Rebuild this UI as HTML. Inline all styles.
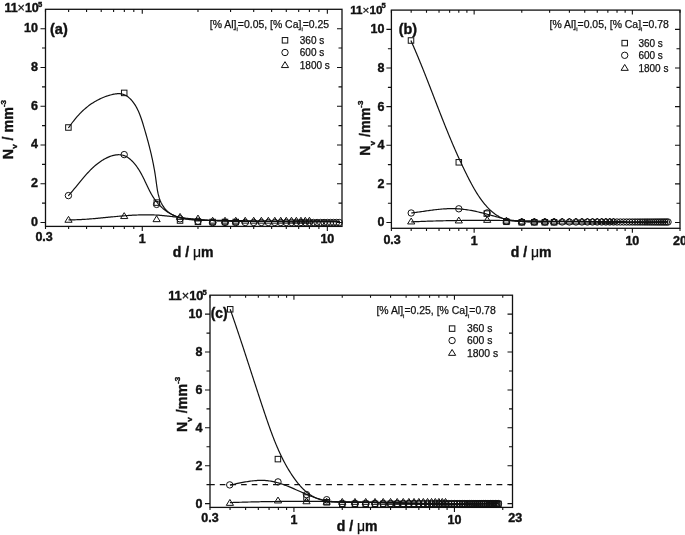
<!DOCTYPE html>
<html><head><meta charset="utf-8"><style>
html,body{margin:0;padding:0;background:#fff;}
body{width:685px;height:535px;overflow:hidden;}
svg{display:block;}
</style></head><body>
<svg width="685" height="535" viewBox="0 0 685 535" font-family="'Liberation Sans', Arial, sans-serif" fill="#111">
<style>text{stroke:#111;stroke-width:0.25px} .b{font-weight:bold;stroke-width:0.4px} .n{font-weight:normal;stroke-width:0.25px}</style>
<rect width="685" height="535" fill="#fff"/>
<rect x="45.5" y="9.3" width="296.5" height="217.1" fill="none" stroke="#111" stroke-width="1.3"/>
<path d="M40.5 222.52H45.5M342 222.52H337M42 203.14H45.5M342 203.14H338.5M40.5 183.76H45.5M342 183.76H337M42 164.37H45.5M342 164.37H338.5M40.5 144.99H45.5M342 144.99H337M42 125.6H45.5M342 125.6H338.5M40.5 106.22H45.5M342 106.22H337M42 86.84H45.5M342 86.84H338.5M40.5 67.45H45.5M342 67.45H337M42 48.07H45.5M342 48.07H338.5M40.5 28.68H45.5M342 28.68H337M45.5 226.4V229M45.5 9.3V11.9M68.62 226.4V229M68.62 9.3V11.9M86.56 226.4V229M86.56 9.3V11.9M101.21 226.4V229M101.21 9.3V11.9M113.6 226.4V229M113.6 9.3V11.9M124.34 226.4V229M124.34 9.3V11.9M133.8 226.4V229M133.8 9.3V11.9M142.27 226.4V230.9M142.27 9.3V13.8M197.98 226.4V229M197.98 9.3V11.9M230.57 226.4V229M230.57 9.3V11.9M253.7 226.4V229M253.7 9.3V11.9M271.63 226.4V229M271.63 9.3V11.9M286.29 226.4V229M286.29 9.3V11.9M298.68 226.4V229M298.68 9.3V11.9M309.41 226.4V229M309.41 9.3V11.9M318.88 226.4V229M318.88 9.3V11.9M327.35 226.4V230.9M327.35 9.3V13.8" stroke="#111" stroke-width="1.1" fill="none"/>
<text x="38" y="225.82" font-size="12.5" class="b" text-anchor="end">0</text>
<text x="38" y="187.06" font-size="12.5" class="b" text-anchor="end">2</text>
<text x="38" y="148.29" font-size="12.5" class="b" text-anchor="end">4</text>
<text x="38" y="109.52" font-size="12.5" class="b" text-anchor="end">6</text>
<text x="38" y="70.75" font-size="12.5" class="b" text-anchor="end">8</text>
<text x="38" y="31.98" font-size="12.5" class="b" text-anchor="end">10</text>
<text x="44.1" y="240.8" font-size="12.5" class="b" text-anchor="middle">0.3</text>
<text x="142.27" y="243.4" font-size="12.5" class="b" text-anchor="middle">1</text>
<text x="327.35" y="243.2" font-size="12.5" class="b" text-anchor="middle">10</text>
<path d="M68.4 128 69.1 126.99 69.8 125.98 70.52 124.98 71.25 123.98 71.98 122.99 72.74 122 73.5 121.02 74.27 120.04 75.06 119.08 75.86 118.11 76.67 117.16 77.5 116.22 78.34 115.29 79.19 114.36 80.06 113.45 80.94 112.55 81.84 111.67 82.75 110.79 83.68 109.93 84.63 109.08 85.58 108.25 86.56 107.44 87.55 106.64 88.56 105.85 89.59 105.09 90.63 104.34 91.69 103.61 92.77 102.9 93.86 102.21 94.98 101.54 96.1 100.9 97.25 100.27 98.4 99.67 99.57 99.09 100.75 98.53 101.94 98 103.13 97.49 104.33 97.01 105.53 96.56 106.74 96.13 107.95 95.73 109.16 95.36 110.37 95.02 111.58 94.71 112.78 94.43 113.98 94.18 115.17 93.97 116.35 93.82 117.52 93.72 118.68 93.68 119.82 93.71 120.95 93.82 122.06 94.02 123.15 94.3 124.21 94.69 125.26 95.17 126.27 95.73 127.26 96.37 128.22 97.08 129.14 97.84 130.03 98.66 130.89 99.52 131.71 100.41 132.5 101.34 133.26 102.31 133.99 103.31 134.69 104.34 135.36 105.4 136 106.49 136.62 107.6 137.21 108.74 137.78 109.9 138.33 111.08 138.86 112.27 139.37 113.48 139.86 114.71 140.33 115.95 140.78 117.2 141.23 118.45 141.65 119.72 142.07 120.99 142.47 122.26 142.87 123.53 143.25 124.8 143.63 126.07 144 127.33 144.37 128.58 144.73 129.83 145.09 131.07 145.45 132.3 145.8 133.53 146.14 134.75 146.48 135.96 146.82 137.17 147.15 138.37 147.48 139.57 147.81 140.76 148.13 141.95 148.45 143.14 148.76 144.32 149.07 145.5 149.37 146.68 149.67 147.86 149.96 149.03 150.25 150.21 150.54 151.38 150.82 152.56 151.1 153.73 151.37 154.91 151.64 156.09 151.9 157.26 152.16 158.45 152.42 159.63 152.67 160.82 152.91 162.01 153.15 163.2 153.39 164.4 153.62 165.61 153.85 166.82 154.07 168.03 154.29 169.25 154.51 170.48 154.72 171.72 154.92 172.96 155.12 174.21 155.32 175.47 155.51 176.74 155.69 178.01 155.87 179.3 156.05 180.59 156.22 181.9 156.4 183.21 156.58 184.53 156.76 185.85 156.95 187.16 157.15 188.48 157.36 189.79 157.6 191.1 157.85 192.39 158.12 193.68 158.42 194.95 158.75 196.2 159.1 197.44 159.49 198.66 159.92 199.86 160.38 201.03 160.88 202.18 161.42 203.29 162 204.38 162.62 205.44 163.27 206.45 163.96 207.43 164.68 208.38 165.44 209.28 166.24 210.13 167.08 210.94 167.95 211.7 168.85 212.42 169.79 213.09 170.76 213.71 171.76 214.29 172.79 214.84 173.85 215.34 174.93 215.81 176.04 216.24 177.17 216.63 178.32 217 179.5 217.33 180.69 217.64 181.9 217.91 183.13 218.17 184.37 218.4 185.63 218.6 186.9 218.79 188.18 218.95 189.47 219.1 190.77 219.24 192.07 219.36 193.38 219.47 194.69 219.56 196.01 219.65 197.32 219.74 198.64 219.81 199.96 219.88 201.27 219.95 202.58 220.02 203.88 220.09 205.19 220.15 206.49 220.21 207.79 220.27 209.08 220.33 210.37 220.38 211.66 220.44 212.95 220.49 214.24 220.54 215.52 220.58 216.8 220.63 218.08 220.67 219.36 220.71 220.63 220.75 221.9 220.79 223.17 220.83 224.44 220.86 225.71 220.89 226.97 220.93 228.23 220.96 229.49 220.98 230.75 221.01 232.01 221.04 233.26 221.06 234.52 221.08 235.77 221.1 237.02 221.12 238.27 221.14 239.52 221.16 240.76 221.18 242.01 221.19 243.25 221.21 244.49 221.22 245.74 221.23 246.98 221.24 248.22 221.25 249.46 221.26 250.69 221.27 251.93 221.27 253.17 221.28 254.4 221.29 255.64 221.29 256.87 221.29 258.11 221.3 259.34 221.3 260.57 221.3 261.8 221.3 263.04 221.3 264.27 221.3 265.5 221.3 266.73 221.3 267.96 221.3 269.19 221.3 270.43 221.29 271.66 221.29 272.89 221.29 274.12 221.29 275.35 221.28 276.58 221.28 277.82 221.27 279.05 221.27 280.28 221.27 281.52 221.26 282.75 221.26 283.98 221.25 285.22 221.25 286.46 221.24 287.69 221.24 288.93 221.24 290.17 221.23 291.41 221.23 292.65 221.23 293.89 221.22 295.13 221.22 296.37 221.22 297.62 221.22 298.87 221.22 300.11 221.21 301.36 221.21 302.61 221.21 303.86 221.21 305.11 221.22 306.37 221.22 307.62 221.22 308.88 221.22 310.14 221.23 311.4 221.23 312.67 221.24 313.93 221.24 315.2 221.25 316.47 221.26 317.74 221.27 319.01 221.28 320.28 221.29 321.56 221.3 322.84 221.31 324.12 221.33 325.41 221.34 326.69 221.36 327.98 221.38 329.27 221.4 330.57 221.42 331.86 221.44 333.16 221.46 334.46 221.49 335.77 221.51 337.08 221.54 338.39 221.57 339.7 221.6" fill="none" stroke="#111" stroke-width="1.2" stroke-linejoin="round"/>
<path d="M68.3 195.8 69.08 194.94 69.87 194.06 70.65 193.16 71.43 192.25 72.22 191.33 73 190.39 73.79 189.44 74.58 188.48 75.37 187.51 76.17 186.54 76.97 185.56 77.77 184.57 78.58 183.58 79.39 182.58 80.21 181.59 81.03 180.59 81.86 179.6 82.69 178.6 83.53 177.61 84.38 176.63 85.23 175.65 86.1 174.67 86.97 173.7 87.85 172.75 88.74 171.8 89.63 170.86 90.54 169.94 91.46 169.03 92.38 168.14 93.32 167.26 94.27 166.4 95.23 165.56 96.21 164.74 97.19 163.94 98.19 163.16 99.2 162.4 100.23 161.67 101.27 160.97 102.32 160.29 103.39 159.64 104.47 159.02 105.57 158.43 106.69 157.88 107.82 157.35 108.96 156.86 110.12 156.42 111.29 156.01 112.47 155.65 113.65 155.35 114.83 155.1 116.01 154.91 117.19 154.78 118.36 154.72 119.52 154.74 120.67 154.83 121.81 154.99 122.93 155.25 124.03 155.59 125.11 156.01 126.16 156.52 127.2 157.1 128.21 157.75 129.2 158.47 130.17 159.25 131.12 160.08 132.04 160.96 132.94 161.89 133.81 162.85 134.66 163.85 135.48 164.88 136.28 165.93 137.05 167 137.79 168.09 138.51 169.18 139.21 170.29 139.88 171.4 140.53 172.52 141.16 173.65 141.78 174.78 142.38 175.92 142.96 177.06 143.53 178.2 144.1 179.35 144.65 180.49 145.19 181.64 145.73 182.78 146.27 183.93 146.81 185.07 147.34 186.2 147.88 187.34 148.42 188.46 148.97 189.58 149.53 190.7 150.1 191.8 150.68 192.9 151.28 193.98 151.9 195.06 152.54 196.12 153.2 197.17 153.88 198.2 154.59 199.22 155.32 200.23 156.08 201.22 156.86 202.19 157.66 203.14 158.49 204.08 159.34 204.99 160.21 205.88 161.09 206.75 162 207.6 162.93 208.42 163.88 209.22 164.85 209.99 165.84 210.74 166.84 211.45 167.86 212.14 168.89 212.8 169.94 213.43 171.01 214.03 172.09 214.6 173.19 215.13 174.3 215.63 175.42 216.1 176.56 216.54 177.7 216.95 178.86 217.32 180.03 217.68 181.21 218 182.41 218.3 183.61 218.58 184.82 218.83 186.04 219.06 187.27 219.26 188.5 219.45 189.75 219.62 191 219.77 192.25 219.9 193.52 220.01 194.78 220.11 196.06 220.2 197.33 220.27 198.62 220.33 199.9 220.38 201.19 220.42 202.48 220.45 203.78 220.47 205.07 220.48 206.37 220.49 207.67 220.49 208.96 220.49 210.26 220.49 211.56 220.48 212.85 220.47 214.15 220.47 215.44 220.46 216.73 220.46 218.01 220.45 219.3 220.45 220.58 220.45 221.86 220.45 223.14 220.46 224.41 220.46 225.69 220.47 226.96 220.48 228.23 220.49 229.49 220.5 230.76 220.51 232.02 220.52 233.28 220.54 234.54 220.55 235.8 220.57 237.06 220.59 238.31 220.61 239.57 220.63 240.82 220.65 242.07 220.67 243.32 220.69 244.57 220.72 245.81 220.74 247.06 220.77 248.3 220.79 249.55 220.82 250.79 220.85 252.03 220.87 253.27 220.9 254.51 220.93 255.75 220.96 256.99 220.99 258.22 221.02 259.46 221.05 260.69 221.08 261.93 221.11 263.16 221.14 264.4 221.17 265.63 221.2 266.87 221.24 268.1 221.27 269.33 221.3 270.57 221.33 271.8 221.36 273.03 221.39 274.27 221.42 275.5 221.45 276.73 221.48 277.96 221.51 279.2 221.54 280.43 221.57 281.66 221.6 282.9 221.62 284.13 221.65 285.37 221.68 286.6 221.7 287.84 221.73 289.08 221.75 290.32 221.78 291.55 221.8 292.79 221.82 294.03 221.84 295.27 221.86 296.52 221.88 297.76 221.9 299 221.92 300.25 221.93 301.49 221.95 302.74 221.96 303.99 221.97 305.24 221.98 306.49 221.99 307.75 222 309 222 310.26 222.01 311.51 222.01 312.77 222.01 314.03 222.01 315.3 222.01 316.56 222.01 317.83 222 319.1 222 320.37 221.99 321.64 221.98 322.91 221.96 324.19 221.95 325.47 221.93 326.75 221.91 328.03 221.89 329.32 221.87 330.61 221.84 331.9 221.82 333.19 221.79 334.49 221.75 335.79 221.72 337.09 221.68 338.39 221.64 339.7 221.6" fill="none" stroke="#111" stroke-width="1.2" stroke-linejoin="round"/>
<path d="M68.5 219.9 69.76 219.89 71.01 219.88 72.27 219.86 73.53 219.83 74.79 219.8 76.04 219.76 77.3 219.71 78.56 219.66 79.81 219.6 81.07 219.53 82.32 219.46 83.58 219.39 84.84 219.31 86.09 219.23 87.35 219.14 88.6 219.04 89.86 218.95 91.12 218.85 92.37 218.74 93.63 218.64 94.88 218.53 96.14 218.42 97.39 218.3 98.65 218.19 99.9 218.07 101.16 217.95 102.41 217.83 103.67 217.71 104.92 217.58 106.18 217.46 107.43 217.34 108.69 217.22 109.94 217.09 111.19 216.97 112.45 216.85 113.7 216.73 114.96 216.61 116.21 216.49 117.47 216.38 118.72 216.26 119.97 216.15 121.23 216.04 122.48 215.94 123.73 215.83 124.99 215.73 126.24 215.64 127.5 215.55 128.75 215.46 130 215.37 131.26 215.29 132.51 215.22 133.76 215.15 135.02 215.09 136.27 215.03 137.52 214.98 138.78 214.93 140.03 214.89 141.28 214.86 142.53 214.83 143.79 214.81 145.04 214.8 146.29 214.8 147.55 214.8 148.8 214.81 150.05 214.83 151.3 214.86 152.56 214.9 153.81 214.94 155.06 215 156.32 215.06 157.57 215.14 158.82 215.22 160.07 215.31 161.33 215.42 162.58 215.53 163.83 215.65 165.08 215.78 166.34 215.91 167.59 216.05 168.84 216.19 170.09 216.34 171.35 216.49 172.6 216.64 173.85 216.79 175.1 216.94 176.36 217.09 177.61 217.24 178.86 217.39 180.11 217.53 181.37 217.67 182.62 217.81 183.87 217.95 185.13 218.09 186.38 218.23 187.63 218.36 188.88 218.49 190.14 218.62 191.39 218.75 192.64 218.87 193.89 218.99 195.15 219.11 196.4 219.23 197.65 219.35 198.9 219.46 200.16 219.57 201.41 219.68 202.66 219.78 203.92 219.88 205.17 219.98 206.42 220.08 207.68 220.17 208.93 220.26 210.18 220.34 211.43 220.43 212.69 220.5 213.94 220.58 215.19 220.65 216.45 220.72 217.7 220.79 218.95 220.85 220.21 220.91 221.46 220.96 222.71 221.01 223.97 221.06 225.22 221.11 226.48 221.15 227.73 221.19 228.98 221.23 230.24 221.26 231.49 221.29 232.74 221.32 234 221.35 235.25 221.37 236.51 221.4 237.76 221.42 239.02 221.43 240.27 221.45 241.52 221.46 242.78 221.47 244.03 221.48 245.29 221.49 246.54 221.49 247.8 221.49 249.05 221.49 250.31 221.49 251.56 221.49 252.82 221.49 254.07 221.48 255.33 221.48 256.58 221.47 257.84 221.46 259.09 221.45 260.35 221.44 261.61 221.43 262.86 221.41 264.12 221.4 265.37 221.39 266.63 221.37 267.89 221.35 269.14 221.34 270.4 221.32 271.66 221.3 272.91 221.28 274.17 221.26 275.43 221.25 276.68 221.23 277.94 221.21 279.2 221.19 280.45 221.17 281.71 221.15 282.97 221.13 284.23 221.11 285.48 221.1 286.74 221.08 288 221.06 289.26 221.04 290.52 221.03 291.78 221.01 293.03 221 294.29 220.98 295.55 220.97 296.81 220.96 298.07 220.95 299.33 220.94 300.59 220.93 301.85 220.92 303.11 220.91 304.37 220.91 305.63 220.9 306.89 220.9 308.15 220.9 309.41 220.9 310.67 220.9 311.93 220.91 313.19 220.92 314.45 220.92 315.71 220.93 316.97 220.95 318.23 220.96 319.49 220.98 320.76 221 322.02 221.02 323.28 221.04 324.54 221.07 325.8 221.1 327.07 221.13 328.33 221.16 329.59 221.2 330.85 221.24 332.12 221.28 333.38 221.33 334.64 221.37 335.91 221.43 337.17 221.48 338.44 221.54 339.7 221.6" fill="none" stroke="#111" stroke-width="1.2" stroke-linejoin="round"/>
<g fill="none" stroke="#111" stroke-width="1.0"><rect x="65.65" y="124.75" width="5.5" height="5.5"/><rect x="121.45" y="90.15" width="5.5" height="5.5"/><rect x="154.05" y="199.85" width="5.5" height="5.5"/><rect x="177.3" y="217.75" width="5.5" height="5.5"/><rect x="195.23" y="219.05" width="5.5" height="5.5"/><rect x="209.89" y="219.25" width="5.5" height="5.5"/><rect x="222.28" y="219.25" width="5.5" height="5.5"/><rect x="233.01" y="219.25" width="5.5" height="5.5"/><circle cx="68.4" cy="195.6" r="3.2"/><circle cx="124.2" cy="154.6" r="3.2"/><circle cx="156.6" cy="204.4" r="3.2"/><circle cx="180.05" cy="218.8" r="3.2"/><circle cx="197.98" cy="221.2" r="3.2"/><circle cx="212.64" cy="222.5" r="3.2"/><circle cx="225.03" cy="222.5" r="3.2"/><circle cx="235.76" cy="222.5" r="3.2"/><circle cx="245.23" cy="222.5" r="3.2"/><circle cx="253.7" cy="222.5" r="3.2"/><circle cx="261.36" cy="222.5" r="3.2"/><circle cx="268.35" cy="222.5" r="3.2"/><circle cx="274.79" cy="222.5" r="3.2"/><circle cx="280.74" cy="222.5" r="3.2"/><circle cx="286.29" cy="222.5" r="3.2"/><circle cx="291.47" cy="222.5" r="3.2"/><circle cx="296.35" cy="222.5" r="3.2"/><circle cx="300.94" cy="222.5" r="3.2"/><circle cx="305.29" cy="222.5" r="3.2"/><circle cx="309.41" cy="222.5" r="3.2"/><circle cx="313.33" cy="222.5" r="3.2"/><circle cx="317.07" cy="222.5" r="3.2"/><circle cx="320.64" cy="222.5" r="3.2"/><circle cx="324.06" cy="222.5" r="3.2"/><circle cx="327.35" cy="222.5" r="3.2"/><circle cx="330.5" cy="222.5" r="3.2"/><circle cx="333.53" cy="222.5" r="3.2"/><circle cx="336.45" cy="222.5" r="3.2"/><circle cx="339.28" cy="222.5" r="3.2"/><path d="M68.5 216.35L72.1 222.25L64.9 222.25Z"/><path d="M124.2 212.65L127.8 218.55L120.6 218.55Z"/><path d="M156.6 215.75L160.2 221.65L153 221.65Z"/><path d="M180.05 213.45L183.65 219.35L176.45 219.35Z"/><path d="M197.98 215.05L201.58 220.95L194.38 220.95Z"/><path d="M212.64 217.25L216.24 223.15L209.04 223.15Z"/><path d="M225.03 217.25L228.63 223.15L221.43 223.15Z"/><path d="M235.76 217.25L239.36 223.15L232.16 223.15Z"/><path d="M245.23 217.25L248.83 223.15L241.63 223.15Z"/><path d="M253.7 217.25L257.3 223.15L250.1 223.15Z"/><path d="M261.36 217.25L264.96 223.15L257.76 223.15Z"/><path d="M268.35 217.25L271.95 223.15L264.75 223.15Z"/><path d="M274.79 217.25L278.39 223.15L271.19 223.15Z"/><path d="M280.74 217.25L284.34 223.15L277.14 223.15Z"/><path d="M286.29 217.25L289.89 223.15L282.69 223.15Z"/><path d="M291.47 217.25L295.07 223.15L287.87 223.15Z"/><path d="M296.35 217.25L299.95 223.15L292.75 223.15Z"/><path d="M300.94 217.25L304.54 223.15L297.34 223.15Z"/><path d="M305.29 217.25L308.89 223.15L301.69 223.15Z"/><path d="M309.41 217.25L313.01 223.15L305.81 223.15Z"/></g>
<rect x="391.4" y="10.1" width="288.6" height="218.2" fill="none" stroke="#111" stroke-width="1.3"/>
<path d="M386.4 222.51H391.4M680 222.51H675M387.9 203.2H391.4M680 203.2H676.5M386.4 183.89H391.4M680 183.89H675M387.9 164.58H391.4M680 164.58H676.5M386.4 145.27H391.4M680 145.27H675M387.9 125.96H391.4M680 125.96H676.5M386.4 106.65H391.4M680 106.65H675M387.9 87.34H391.4M680 87.34H676.5M386.4 68.03H391.4M680 68.03H675M387.9 48.72H391.4M680 48.72H676.5M386.4 29.41H391.4M680 29.41H675M391.4 228.3V230.9M391.4 10.1V12.7M411.17 228.3V230.9M411.17 10.1V12.7M426.5 228.3V230.9M426.5 10.1V12.7M439.03 228.3V230.9M439.03 10.1V12.7M449.63 228.3V230.9M449.63 10.1V12.7M458.8 228.3V230.9M458.8 10.1V12.7M466.9 228.3V230.9M466.9 10.1V12.7M474.14 228.3V232.8M474.14 10.1V14.6M521.77 228.3V230.9M521.77 10.1V12.7M549.63 228.3V230.9M549.63 10.1V12.7M569.4 228.3V230.9M569.4 10.1V12.7M584.74 228.3V230.9M584.74 10.1V12.7M597.26 228.3V230.9M597.26 10.1V12.7M607.86 228.3V230.9M607.86 10.1V12.7M617.03 228.3V230.9M617.03 10.1V12.7M625.13 228.3V230.9M625.13 10.1V12.7M632.37 228.3V232.8M632.37 10.1V14.6M680 228.3V230.9M680 10.1V12.7" stroke="#111" stroke-width="1.1" fill="none"/>
<text x="384.4" y="226.41" font-size="12.5" class="b" text-anchor="end">0</text>
<text x="384.4" y="187.79" font-size="12.5" class="b" text-anchor="end">2</text>
<text x="384.4" y="149.17" font-size="12.5" class="b" text-anchor="end">4</text>
<text x="384.4" y="110.55" font-size="12.5" class="b" text-anchor="end">6</text>
<text x="384.4" y="71.93" font-size="12.5" class="b" text-anchor="end">8</text>
<text x="384.4" y="33.31" font-size="12.5" class="b" text-anchor="end">10</text>
<text x="392.1" y="243.8" font-size="12.5" class="b" text-anchor="middle">0.3</text>
<text x="474.14" y="244.8" font-size="12.5" class="b" text-anchor="middle">1</text>
<text x="632.37" y="244.9" font-size="12.5" class="b" text-anchor="middle">10</text>
<text x="680" y="244.9" font-size="12.5" class="b" text-anchor="middle">20</text>
<path d="M410.9 40.5 411.42 41.67 411.93 42.83 412.45 44 412.96 45.17 413.47 46.34 413.97 47.5 414.48 48.67 414.98 49.84 415.48 51 415.97 52.17 416.47 53.33 416.96 54.5 417.45 55.67 417.93 56.83 418.42 58 418.9 59.16 419.38 60.33 419.86 61.49 420.34 62.66 420.81 63.82 421.29 64.99 421.76 66.15 422.23 67.31 422.7 68.48 423.16 69.64 423.63 70.81 424.09 71.97 424.56 73.13 425.02 74.3 425.48 75.46 425.94 76.62 426.4 77.79 426.85 78.95 427.31 80.11 427.76 81.27 428.22 82.44 428.67 83.6 429.12 84.76 429.58 85.92 430.03 87.09 430.48 88.25 430.93 89.41 431.38 90.57 431.83 91.73 432.28 92.89 432.73 94.05 433.17 95.21 433.62 96.38 434.07 97.54 434.52 98.7 434.97 99.86 435.42 101.02 435.86 102.18 436.31 103.34 436.76 104.5 437.21 105.66 437.66 106.82 438.11 107.98 438.56 109.14 439.01 110.29 439.46 111.45 439.91 112.61 440.37 113.77 440.82 114.93 441.27 116.09 441.73 117.25 442.18 118.41 442.64 119.56 443.1 120.72 443.56 121.88 444.02 123.04 444.48 124.2 444.94 125.35 445.41 126.51 445.87 127.67 446.34 128.82 446.81 129.98 447.28 131.14 447.75 132.29 448.22 133.45 448.7 134.61 449.18 135.76 449.66 136.92 450.14 138.08 450.62 139.23 451.1 140.39 451.59 141.54 452.08 142.7 452.57 143.86 453.06 145.01 453.56 146.17 454.06 147.32 454.56 148.48 455.06 149.63 455.57 150.79 456.08 151.94 456.59 153.09 457.1 154.25 457.62 155.4 458.14 156.56 458.66 157.71 459.19 158.87 459.71 160.02 460.25 161.17 460.78 162.33 461.32 163.48 461.86 164.63 462.4 165.79 462.95 166.94 463.5 168.09 464.06 169.25 464.62 170.4 465.18 171.55 465.74 172.7 466.31 173.86 466.89 175.01 467.46 176.16 468.04 177.31 468.63 178.46 469.22 179.61 469.81 180.76 470.41 181.9 471.02 183.05 471.63 184.18 472.25 185.32 472.87 186.45 473.5 187.57 474.14 188.68 474.79 189.79 475.44 190.9 476.1 191.99 476.78 193.08 477.45 194.15 478.14 195.22 478.84 196.28 479.55 197.32 480.27 198.36 480.99 199.38 481.73 200.39 482.48 201.39 483.24 202.37 484.02 203.34 484.8 204.29 485.6 205.23 486.41 206.15 487.23 207.05 488.07 207.94 488.92 208.8 489.78 209.65 490.66 210.47 491.55 211.27 492.46 212.05 493.38 212.8 494.32 213.52 495.27 214.22 496.25 214.88 497.23 215.52 498.24 216.12 499.26 216.7 500.3 217.24 501.35 217.74 502.43 218.21 503.52 218.64 504.63 219.03 505.76 219.39 506.91 219.71 508.07 220 509.25 220.26 510.44 220.48 511.64 220.68 512.86 220.86 514.09 221.01 515.33 221.14 516.58 221.24 517.83 221.33 519.1 221.41 520.37 221.46 521.64 221.51 522.92 221.54 524.21 221.57 525.5 221.58 526.79 221.59 528.08 221.6 529.37 221.6 530.66 221.61 531.94 221.61 533.23 221.61 534.52 221.62 535.8 221.62 537.09 221.62 538.37 221.63 539.65 221.63 540.93 221.63 542.21 221.63 543.49 221.64 544.77 221.64 546.05 221.64 547.32 221.64 548.6 221.64 549.87 221.65 551.15 221.65 552.42 221.65 553.69 221.65 554.96 221.65 556.23 221.65 557.5 221.66 558.77 221.66 560.04 221.66 561.31 221.66 562.58 221.66 563.84 221.66 565.11 221.66 566.37 221.66 567.63 221.67 568.9 221.67 570.16 221.67 571.42 221.67 572.68 221.67 573.94 221.67 575.2 221.67 576.46 221.67 577.72 221.67 578.98 221.67 580.24 221.67 581.5 221.67 582.75 221.68 584.01 221.68 585.27 221.68 586.52 221.68 587.78 221.68 589.03 221.68 590.29 221.68 591.54 221.68 592.79 221.68 594.05 221.68 595.3 221.68 596.55 221.69 597.8 221.69 599.06 221.69 600.31 221.69 601.56 221.69 602.81 221.69 604.06 221.69 605.31 221.69 606.56 221.69 607.81 221.7 609.06 221.7 610.31 221.7 611.56 221.7 612.81 221.7 614.06 221.7 615.31 221.71 616.56 221.71 617.81 221.71 619.06 221.71 620.31 221.71 621.56 221.72 622.81 221.72 624.05 221.72 625.3 221.72 626.55 221.73 627.8 221.73 629.05 221.73 630.3 221.74 631.55 221.74 632.8 221.74 634.05 221.75 635.3 221.75 636.55 221.75 637.8 221.76 639.05 221.76 640.3 221.77 641.55 221.77 642.8 221.77 644.06 221.78 645.31 221.78 646.56 221.79 647.81 221.79 649.06 221.8 650.32 221.8 651.57 221.81 652.82 221.82 654.08 221.82 655.33 221.83 656.59 221.83 657.84 221.84 659.1 221.85 660.35 221.85 661.61 221.86 662.87 221.87 664.12 221.88 665.38 221.88 666.64 221.89 667.9 221.9" fill="none" stroke="#111" stroke-width="1.2" stroke-linejoin="round"/>
<path d="M411.2 213 412.45 212.85 413.71 212.69 414.96 212.52 416.21 212.35 417.46 212.18 418.71 212 419.96 211.83 421.21 211.65 422.46 211.47 423.71 211.29 424.96 211.11 426.21 210.93 427.46 210.75 428.71 210.58 429.95 210.41 431.2 210.24 432.45 210.08 433.7 209.92 434.95 209.77 436.19 209.63 437.44 209.49 438.69 209.36 439.93 209.24 441.18 209.12 442.42 209.02 443.67 208.93 444.92 208.85 446.16 208.78 447.41 208.72 448.65 208.67 449.9 208.64 451.14 208.62 452.38 208.62 453.63 208.64 454.87 208.67 456.12 208.71 457.36 208.78 458.6 208.86 459.85 208.95 461.09 209.06 462.33 209.19 463.58 209.33 464.82 209.49 466.06 209.66 467.31 209.84 468.55 210.03 469.79 210.24 471.03 210.46 472.28 210.69 473.52 210.93 474.76 211.19 476 211.45 477.24 211.72 478.49 212.01 479.73 212.3 480.97 212.6 482.21 212.91 483.45 213.23 484.69 213.55 485.93 213.88 487.18 214.22 488.42 214.56 489.66 214.91 490.9 215.26 492.14 215.6 493.38 215.95 494.62 216.29 495.87 216.63 497.11 216.96 498.35 217.29 499.59 217.61 500.83 217.91 502.07 218.21 503.31 218.5 504.55 218.78 505.8 219.05 507.04 219.31 508.28 219.56 509.52 219.79 510.76 220.02 512 220.23 513.24 220.43 514.49 220.62 515.73 220.79 516.97 220.95 518.21 221.09 519.45 221.22 520.7 221.34 521.94 221.45 523.18 221.55 524.42 221.63 525.67 221.7 526.91 221.77 528.15 221.82 529.39 221.86 530.64 221.9 531.88 221.92 533.12 221.94 534.37 221.96 535.61 221.96 536.85 221.96 538.1 221.95 539.34 221.94 540.58 221.92 541.83 221.9 543.07 221.88 544.32 221.85 545.56 221.82 546.81 221.79 548.05 221.75 549.3 221.71 550.54 221.68 551.79 221.64 553.04 221.6 554.28 221.57 555.53 221.53 556.77 221.5 558.02 221.46 559.27 221.44 560.52 221.41 561.76 221.39 563.01 221.37 564.26 221.35 565.51 221.34 566.76 221.33 568 221.32 569.25 221.32 570.5 221.32 571.75 221.32 573 221.32 574.25 221.33 575.5 221.34 576.75 221.35 578 221.36 579.26 221.37 580.51 221.39 581.76 221.41 583.01 221.43 584.27 221.45 585.52 221.48 586.77 221.5 588.03 221.53 589.28 221.55 590.53 221.58 591.79 221.61 593.04 221.64 594.3 221.68 595.55 221.71 596.81 221.74 598.07 221.78 599.32 221.81 600.58 221.85 601.84 221.88 603.1 221.92 604.36 221.95 605.62 221.99 606.87 222.03 608.13 222.06 609.39 222.1 610.66 222.13 611.92 222.17 613.18 222.2 614.44 222.24 615.7 222.27 616.96 222.3 618.23 222.33 619.49 222.36 620.76 222.39 622.02 222.42 623.29 222.45 624.55 222.48 625.82 222.5 627.08 222.52 628.35 222.54 629.62 222.56 630.89 222.58 632.16 222.6 633.42 222.61 634.69 222.62 635.96 222.63 637.23 222.64 638.51 222.65 639.78 222.65 641.05 222.65 642.32 222.65 643.6 222.64 644.87 222.63 646.14 222.62 647.42 222.61 648.7 222.59 649.97 222.57 651.25 222.55 652.53 222.52 653.8 222.49 655.08 222.46 656.36 222.42 657.64 222.38 658.92 222.33 660.2 222.28 661.48 222.23 662.77 222.17 664.05 222.11 665.33 222.05 666.62 221.97 667.9 221.9" fill="none" stroke="#111" stroke-width="1.2" stroke-linejoin="round"/>
<path d="M411.2 221.9 412.46 221.84 413.72 221.78 414.97 221.72 416.23 221.67 417.49 221.61 418.75 221.56 420.01 221.5 421.26 221.45 422.52 221.4 423.78 221.36 425.04 221.31 426.3 221.26 427.56 221.22 428.81 221.18 430.07 221.13 431.33 221.09 432.59 221.05 433.85 221.02 435.1 220.98 436.36 220.95 437.62 220.91 438.88 220.88 440.14 220.85 441.39 220.82 442.65 220.79 443.91 220.76 445.17 220.73 446.43 220.71 447.68 220.68 448.94 220.66 450.2 220.64 451.46 220.61 452.72 220.59 453.97 220.57 455.23 220.56 456.49 220.54 457.75 220.52 459.01 220.51 460.26 220.49 461.52 220.48 462.78 220.47 464.04 220.46 465.3 220.45 466.56 220.44 467.81 220.43 469.07 220.42 470.33 220.41 471.59 220.41 472.85 220.4 474.1 220.4 475.36 220.4 476.62 220.39 477.88 220.39 479.14 220.39 480.39 220.39 481.65 220.39 482.91 220.39 484.17 220.39 485.43 220.4 486.68 220.4 487.94 220.41 489.2 220.41 490.46 220.42 491.72 220.42 492.97 220.43 494.23 220.44 495.49 220.45 496.75 220.45 498.01 220.46 499.27 220.47 500.52 220.49 501.78 220.5 503.04 220.51 504.3 220.52 505.56 220.53 506.81 220.55 508.07 220.56 509.33 220.58 510.59 220.59 511.85 220.61 513.1 220.62 514.36 220.64 515.62 220.65 516.88 220.67 518.14 220.69 519.4 220.71 520.65 220.73 521.91 220.74 523.17 220.76 524.43 220.78 525.69 220.8 526.94 220.82 528.2 220.84 529.46 220.86 530.72 220.88 531.98 220.9 533.24 220.93 534.49 220.95 535.75 220.97 537.01 220.99 538.27 221.01 539.53 221.04 540.78 221.06 542.04 221.08 543.3 221.1 544.56 221.13 545.82 221.15 547.08 221.17 548.33 221.2 549.59 221.22 550.85 221.24 552.11 221.27 553.37 221.29 554.63 221.31 555.88 221.34 557.14 221.36 558.4 221.38 559.66 221.41 560.92 221.43 562.18 221.45 563.43 221.48 564.69 221.5 565.95 221.52 567.21 221.54 568.47 221.57 569.73 221.59 570.98 221.61 572.24 221.64 573.5 221.66 574.76 221.68 576.02 221.7 577.28 221.72 578.53 221.74 579.79 221.77 581.05 221.79 582.31 221.81 583.57 221.83 584.83 221.85 586.08 221.87 587.34 221.89 588.6 221.91 589.86 221.93 591.12 221.94 592.38 221.96 593.64 221.98 594.89 222 596.15 222.01 597.41 222.03 598.67 222.05 599.93 222.06 601.19 222.08 602.44 222.09 603.7 222.11 604.96 222.12 606.22 222.13 607.48 222.15 608.74 222.16 610 222.17 611.25 222.18 612.51 222.19 613.77 222.2 615.03 222.21 616.29 222.22 617.55 222.23 618.81 222.24 620.06 222.24 621.32 222.25 622.58 222.26 623.84 222.26 625.1 222.27 626.36 222.27 627.62 222.27 628.88 222.27 630.13 222.27 631.39 222.28 632.65 222.27 633.91 222.27 635.17 222.27 636.43 222.27 637.69 222.27 638.95 222.26 640.2 222.26 641.46 222.25 642.72 222.24 643.98 222.24 645.24 222.23 646.5 222.22 647.76 222.21 649.02 222.19 650.27 222.18 651.53 222.17 652.79 222.15 654.05 222.14 655.31 222.12 656.57 222.11 657.83 222.09 659.09 222.07 660.35 222.05 661.61 222.02 662.86 222 664.12 221.98 665.38 221.95 666.64 221.93 667.9 221.9" fill="none" stroke="#111" stroke-width="1.2" stroke-linejoin="round"/>
<g fill="none" stroke="#111" stroke-width="1.0"><rect x="408.25" y="37.75" width="5.5" height="5.5"/><rect x="456.05" y="159.55" width="5.5" height="5.5"/><rect x="484.05" y="210.85" width="5.5" height="5.5"/><rect x="503.68" y="219.05" width="5.5" height="5.5"/><rect x="519.02" y="219.55" width="5.5" height="5.5"/><rect x="531.55" y="219.55" width="5.5" height="5.5"/><rect x="542.14" y="219.55" width="5.5" height="5.5"/><rect x="551.32" y="219.55" width="5.5" height="5.5"/><circle cx="411.2" cy="213" r="3.2"/><circle cx="458.8" cy="208.8" r="3.2"/><circle cx="487.2" cy="212.9" r="3.2"/><circle cx="506.43" cy="221.3" r="3.2"/><circle cx="521.77" cy="222" r="3.2"/><circle cx="534.3" cy="222" r="3.2"/><circle cx="544.89" cy="222" r="3.2"/><circle cx="554.07" cy="222" r="3.2"/><circle cx="562.16" cy="222" r="3.2"/><circle cx="569.4" cy="222" r="3.2"/><circle cx="575.95" cy="222" r="3.2"/><circle cx="581.93" cy="222" r="3.2"/><circle cx="587.43" cy="222" r="3.2"/><circle cx="592.52" cy="222" r="3.2"/><circle cx="597.26" cy="222" r="3.2"/><circle cx="601.7" cy="222" r="3.2"/><circle cx="605.87" cy="222" r="3.2"/><circle cx="609.79" cy="222" r="3.2"/><circle cx="613.51" cy="222" r="3.2"/><circle cx="617.03" cy="222" r="3.2"/><circle cx="620.39" cy="222" r="3.2"/><circle cx="623.58" cy="222" r="3.2"/><circle cx="626.64" cy="222" r="3.2"/><circle cx="629.56" cy="222" r="3.2"/><circle cx="632.37" cy="222" r="3.2"/><circle cx="635.06" cy="222" r="3.2"/><circle cx="637.66" cy="222" r="3.2"/><circle cx="640.16" cy="222" r="3.2"/><circle cx="642.57" cy="222" r="3.2"/><circle cx="644.9" cy="222" r="3.2"/><circle cx="647.15" cy="222" r="3.2"/><circle cx="649.33" cy="222" r="3.2"/><circle cx="651.45" cy="222" r="3.2"/><circle cx="653.5" cy="222" r="3.2"/><circle cx="655.49" cy="222" r="3.2"/><circle cx="657.43" cy="222" r="3.2"/><circle cx="659.31" cy="222" r="3.2"/><circle cx="661.14" cy="222" r="3.2"/><circle cx="662.93" cy="222" r="3.2"/><circle cx="664.67" cy="222" r="3.2"/><circle cx="666.36" cy="222" r="3.2"/><circle cx="668.02" cy="222" r="3.2"/><path d="M411.2 218.05L414.8 223.95L407.6 223.95Z"/><path d="M458.8 217.05L462.4 222.95L455.2 222.95Z"/><path d="M487.2 216.45L490.8 222.35L483.6 222.35Z"/><path d="M506.43 217.25L510.03 223.15L502.83 223.15Z"/><path d="M521.77 218.05L525.37 223.95L518.17 223.95Z"/><path d="M534.3 218.05L537.9 223.95L530.7 223.95Z"/><path d="M544.89 218.05L548.49 223.95L541.29 223.95Z"/><path d="M554.07 218.05L557.67 223.95L550.47 223.95Z"/><path d="M562.16 218.05L565.76 223.95L558.56 223.95Z"/><path d="M569.4 218.05L573 223.95L565.8 223.95Z"/><path d="M575.95 218.05L579.55 223.95L572.35 223.95Z"/><path d="M581.93 218.05L585.53 223.95L578.33 223.95Z"/><path d="M587.43 218.05L591.03 223.95L583.83 223.95Z"/><path d="M592.52 218.05L596.12 223.95L588.92 223.95Z"/><path d="M597.26 218.05L600.86 223.95L593.66 223.95Z"/><path d="M601.7 218.05L605.3 223.95L598.1 223.95Z"/><path d="M605.87 218.05L609.47 223.95L602.27 223.95Z"/><path d="M609.79 218.05L613.39 223.95L606.19 223.95Z"/><path d="M613.51 218.05L617.11 223.95L609.91 223.95Z"/></g>
<rect x="210" y="295.2" width="302.5" height="212.2" fill="none" stroke="#111" stroke-width="1.3"/>
<path d="M205 503.61H210M512.5 503.61H507.5M206.5 484.66H210M512.5 484.66H509M205 465.72H210M512.5 465.72H507.5M206.5 446.77H210M512.5 446.77H509M205 427.82H210M512.5 427.82H507.5M206.5 408.88H210M512.5 408.88H509M205 389.93H210M512.5 389.93H507.5M206.5 370.99H210M512.5 370.99H509M205 352.04H210M512.5 352.04H507.5M206.5 333.09H210M512.5 333.09H509M205 314.15H210M512.5 314.15H507.5M210 507.4V510M210 295.2V297.8M230.05 507.4V510M230.05 295.2V297.8M245.61 507.4V510M245.61 295.2V297.8M258.32 507.4V510M258.32 295.2V297.8M269.06 507.4V510M269.06 295.2V297.8M278.37 507.4V510M278.37 295.2V297.8M286.58 507.4V510M286.58 295.2V297.8M293.93 507.4V511.9M293.93 295.2V299.7M342.25 507.4V510M342.25 295.2V297.8M370.51 507.4V510M370.51 295.2V297.8M390.56 507.4V510M390.56 295.2V297.8M406.12 507.4V510M406.12 295.2V297.8M418.83 507.4V510M418.83 295.2V297.8M429.58 507.4V510M429.58 295.2V297.8M438.88 507.4V510M438.88 295.2V297.8M447.09 507.4V510M447.09 295.2V297.8M454.44 507.4V511.9M454.44 295.2V299.7M502.76 507.4V510M502.76 295.2V297.8" stroke="#111" stroke-width="1.1" fill="none"/>
<text x="202.5" y="507.51" font-size="12.5" class="b" text-anchor="end">0</text>
<text x="202.5" y="469.62" font-size="12.5" class="b" text-anchor="end">2</text>
<text x="202.5" y="431.72" font-size="12.5" class="b" text-anchor="end">4</text>
<text x="202.5" y="393.83" font-size="12.5" class="b" text-anchor="end">6</text>
<text x="202.5" y="355.94" font-size="12.5" class="b" text-anchor="end">8</text>
<text x="202.5" y="318.05" font-size="12.5" class="b" text-anchor="end">10</text>
<text x="210" y="522.1" font-size="12.5" class="b" text-anchor="middle">0.3</text>
<text x="293.93" y="524" font-size="12.5" class="b" text-anchor="middle">1</text>
<text x="454.44" y="524" font-size="12.5" class="b" text-anchor="middle">10</text>
<text x="515.2" y="522.3" font-size="12.5" class="b" text-anchor="middle">23</text>
<line x1="210" y1="484.66" x2="512.5" y2="484.66" stroke="#111" stroke-width="1.3" stroke-dasharray="5.6 5.05" stroke-dashoffset="0.85"/>
<path d="M230.2 309.3 230.62 310.5 231.04 311.7 231.46 312.9 231.88 314.1 232.3 315.3 232.71 316.5 233.13 317.69 233.54 318.89 233.95 320.09 234.36 321.28 234.77 322.47 235.18 323.67 235.58 324.86 235.99 326.05 236.39 327.24 236.79 328.44 237.2 329.63 237.6 330.82 238 332.01 238.4 333.2 238.79 334.38 239.19 335.57 239.59 336.76 239.98 337.95 240.38 339.13 240.77 340.32 241.16 341.51 241.56 342.69 241.95 343.88 242.34 345.06 242.73 346.25 243.12 347.43 243.51 348.62 243.9 349.8 244.28 350.98 244.67 352.17 245.06 353.35 245.44 354.53 245.83 355.72 246.22 356.9 246.6 358.08 246.99 359.27 247.37 360.45 247.76 361.63 248.14 362.81 248.53 364 248.91 365.18 249.29 366.36 249.68 367.54 250.06 368.73 250.45 369.91 250.83 371.09 251.21 372.27 251.6 373.46 251.98 374.64 252.37 375.82 252.75 377.01 253.13 378.19 253.52 379.38 253.9 380.56 254.29 381.74 254.67 382.93 255.06 384.11 255.45 385.3 255.83 386.49 256.22 387.67 256.61 388.86 256.99 390.04 257.38 391.23 257.77 392.42 258.16 393.61 258.55 394.8 258.94 395.99 259.33 397.17 259.72 398.36 260.12 399.56 260.51 400.75 260.9 401.94 261.3 403.13 261.69 404.32 262.09 405.52 262.49 406.71 262.89 407.91 263.29 409.1 263.69 410.3 264.09 411.49 264.49 412.69 264.89 413.89 265.3 415.09 265.7 416.29 266.11 417.49 266.52 418.69 266.93 419.89 267.34 421.09 267.76 422.29 268.17 423.49 268.59 424.69 269.02 425.89 269.44 427.09 269.87 428.28 270.3 429.48 270.73 430.68 271.17 431.87 271.61 433.06 272.05 434.25 272.5 435.44 272.95 436.63 273.41 437.81 273.87 439 274.33 440.18 274.8 441.36 275.28 442.53 275.76 443.7 276.24 444.87 276.73 446.04 277.23 447.2 277.73 448.36 278.23 449.52 278.74 450.67 279.26 451.82 279.79 452.97 280.32 454.11 280.86 455.25 281.4 456.38 281.95 457.51 282.51 458.63 283.07 459.75 283.64 460.86 284.22 461.97 284.81 463.07 285.41 464.17 286.01 465.26 286.62 466.35 287.24 467.43 287.87 468.51 288.5 469.58 289.15 470.64 289.8 471.69 290.46 472.74 291.14 473.79 291.82 474.82 292.51 475.85 293.21 476.87 293.92 477.89 294.64 478.89 295.37 479.89 296.11 480.88 296.87 481.86 297.63 482.83 298.41 483.79 299.2 484.73 300.01 485.67 300.83 486.58 301.67 487.48 302.53 488.36 303.4 489.22 304.3 490.07 305.21 490.89 306.14 491.69 307.09 492.47 308.07 493.23 309.06 493.96 310.08 494.66 311.13 495.34 312.19 495.99 313.29 496.61 314.41 497.2 315.54 497.76 316.7 498.28 317.88 498.77 319.07 499.23 320.27 499.65 321.48 500.04 322.7 500.39 323.92 500.69 325.15 500.96 326.38 501.19 327.61 501.39 328.84 501.55 330.08 501.68 331.31 501.78 332.55 501.86 333.78 501.92 335.02 501.97 336.26 502 337.5 502.01 338.75 502.03 339.99 502.03 341.23 502.04 342.48 502.04 343.73 502.04 344.98 502.04 346.22 502.04 347.47 502.04 348.73 502.04 349.98 502.04 351.23 502.04 352.49 502.03 353.74 502.03 355 502.03 356.25 502.03 357.51 502.04 358.77 502.04 360.03 502.05 361.29 502.05 362.55 502.06 363.81 502.07 365.08 502.09 366.34 502.1 367.6 502.12 368.87 502.14 370.13 502.16 371.4 502.18 372.67 502.2 373.93 502.22 375.2 502.25 376.47 502.27 377.74 502.3 379.01 502.33 380.28 502.36 381.55 502.39 382.82 502.42 384.09 502.46 385.36 502.49 386.63 502.52 387.9 502.56 389.17 502.6 390.45 502.63 391.72 502.67 392.99 502.71 394.27 502.75 395.54 502.79 396.81 502.83 398.09 502.87 399.36 502.91 400.63 502.95 401.91 502.99 403.18 503.04 404.45 503.08 405.73 503.12 407 503.16 408.27 503.21 409.55 503.25 410.82 503.29 412.1 503.33 413.37 503.37 414.64 503.42 415.91 503.46 417.19 503.5 418.46 503.54 419.73 503.58 421 503.62 422.27 503.66 423.55 503.7 424.82 503.74 426.09 503.77 427.36 503.81 428.63 503.85 429.9 503.88 431.16 503.92 432.43 503.95 433.7 503.98 434.97 504.01 436.23 504.05 437.5 504.07 438.76 504.1 440.03 504.13 441.29 504.16 442.56 504.18 443.82 504.2 445.08 504.22 446.34 504.24 447.6 504.26 448.86 504.28 450.12 504.3 451.38 504.31 452.63 504.32 453.89 504.33 455.14 504.34 456.4 504.35 457.65 504.35 458.9 504.35 460.15 504.36 461.4 504.35 462.65 504.35 463.9 504.34 465.15 504.34 466.39 504.33 467.64 504.31 468.88 504.3 470.12 504.28 471.36 504.26 472.6 504.24 473.84 504.21 475.08 504.19 476.31 504.16 477.55 504.12 478.78 504.09 480.01 504.05 481.24 504.01 482.47 503.96 483.7 503.92 484.92 503.87 486.15 503.81 487.37 503.76 488.59 503.7 489.81 503.63 491.03 503.57 492.24 503.5 493.46 503.43 494.67 503.35 495.88 503.27 497.09 503.19 498.3 503.1" fill="none" stroke="#111" stroke-width="1.2" stroke-linejoin="round"/>
<path d="M229.9 485.1 231.19 484.82 232.48 484.54 233.77 484.26 235.05 483.98 236.33 483.7 237.61 483.43 238.89 483.17 240.16 482.91 241.43 482.66 242.69 482.41 243.96 482.18 245.21 481.95 246.47 481.74 247.72 481.54 248.97 481.35 250.22 481.17 251.46 481.01 252.7 480.86 253.93 480.73 255.17 480.62 256.39 480.53 257.62 480.45 258.84 480.4 260.06 480.37 261.27 480.36 262.48 480.37 263.69 480.4 264.89 480.47 266.09 480.55 267.28 480.67 268.47 480.81 269.66 480.97 270.84 481.16 272.02 481.38 273.2 481.61 274.38 481.88 275.55 482.16 276.72 482.46 277.89 482.78 279.06 483.12 280.23 483.48 281.39 483.86 282.56 484.25 283.72 484.66 284.89 485.09 286.05 485.53 287.21 485.98 288.38 486.44 289.54 486.91 290.71 487.4 291.88 487.89 293.05 488.4 294.22 488.91 295.39 489.43 296.57 489.95 297.75 490.48 298.92 491.01 300.1 491.54 301.29 492.07 302.47 492.6 303.66 493.12 304.84 493.64 306.03 494.15 307.23 494.66 308.42 495.15 309.61 495.63 310.81 496.1 312.01 496.56 313.21 497 314.41 497.42 315.61 497.82 316.82 498.21 318.02 498.58 319.23 498.93 320.44 499.26 321.65 499.58 322.86 499.87 324.07 500.15 325.29 500.4 326.51 500.64 327.72 500.86 328.94 501.06 330.16 501.25 331.38 501.41 332.61 501.57 333.83 501.7 335.06 501.83 336.28 501.94 337.51 502.03 338.74 502.12 339.97 502.19 341.21 502.25 342.44 502.31 343.67 502.35 344.91 502.39 346.14 502.42 347.38 502.44 348.62 502.45 349.86 502.47 351.1 502.47 352.34 502.47 353.59 502.47 354.83 502.47 356.08 502.47 357.32 502.46 358.57 502.45 359.82 502.45 361.06 502.45 362.31 502.44 363.56 502.44 364.81 502.44 366.07 502.45 367.32 502.45 368.57 502.45 369.83 502.46 371.08 502.46 372.34 502.47 373.59 502.48 374.85 502.49 376.11 502.5 377.37 502.51 378.63 502.52 379.89 502.54 381.15 502.55 382.41 502.57 383.67 502.58 384.93 502.6 386.19 502.61 387.46 502.63 388.72 502.65 389.98 502.67 391.25 502.69 392.51 502.71 393.78 502.73 395.04 502.75 396.31 502.77 397.57 502.79 398.84 502.82 400.11 502.84 401.37 502.86 402.64 502.89 403.91 502.91 405.18 502.93 406.45 502.96 407.71 502.98 408.98 503.01 410.25 503.03 411.52 503.06 412.79 503.08 414.06 503.1 415.33 503.13 416.6 503.15 417.86 503.18 419.13 503.2 420.4 503.23 421.67 503.25 422.94 503.28 424.21 503.3 425.48 503.32 426.75 503.35 428.02 503.37 429.29 503.39 430.55 503.41 431.82 503.43 433.09 503.45 434.36 503.47 435.63 503.49 436.89 503.51 438.16 503.53 439.43 503.55 440.69 503.57 441.96 503.59 443.23 503.6 444.49 503.62 445.76 503.63 447.02 503.65 448.29 503.66 449.55 503.67 450.81 503.68 452.08 503.69 453.34 503.7 454.6 503.71 455.86 503.72 457.12 503.72 458.38 503.73 459.64 503.73 460.9 503.73 462.16 503.73 463.42 503.73 464.68 503.73 465.93 503.73 467.19 503.73 468.44 503.72 469.7 503.71 470.95 503.71 472.2 503.7 473.46 503.69 474.71 503.67 475.96 503.66 477.21 503.64 478.46 503.63 479.7 503.61 480.95 503.59 482.2 503.56 483.44 503.54 484.68 503.51 485.93 503.49 487.17 503.46 488.41 503.42 489.65 503.39 490.89 503.36 492.13 503.32 493.36 503.28 494.6 503.24 495.83 503.19 497.07 503.15 498.3 503.1" fill="none" stroke="#111" stroke-width="1.2" stroke-linejoin="round"/>
<path d="M229.9 502.6 231.16 502.56 232.41 502.51 233.67 502.47 234.92 502.43 236.18 502.39 237.44 502.34 238.69 502.3 239.95 502.27 241.2 502.23 242.46 502.19 243.72 502.15 244.97 502.12 246.23 502.08 247.49 502.05 248.75 502.01 250 501.98 251.26 501.95 252.52 501.92 253.77 501.89 255.03 501.86 256.29 501.83 257.55 501.8 258.8 501.78 260.06 501.75 261.32 501.72 262.58 501.7 263.84 501.68 265.09 501.65 266.35 501.63 267.61 501.61 268.87 501.59 270.13 501.57 271.39 501.55 272.64 501.54 273.9 501.52 275.16 501.5 276.42 501.49 277.68 501.47 278.94 501.46 280.2 501.45 281.46 501.43 282.71 501.42 283.97 501.41 285.23 501.4 286.49 501.4 287.75 501.39 289.01 501.38 290.27 501.37 291.53 501.37 292.79 501.36 294.05 501.36 295.31 501.36 296.57 501.36 297.83 501.35 299.09 501.35 300.35 501.35 301.61 501.36 302.87 501.36 304.13 501.36 305.39 501.37 306.65 501.37 307.91 501.38 309.17 501.38 310.43 501.39 311.69 501.4 312.95 501.41 314.21 501.41 315.47 501.43 316.73 501.44 317.99 501.45 319.25 501.46 320.51 501.47 321.77 501.49 323.03 501.5 324.29 501.52 325.55 501.54 326.81 501.55 328.08 501.57 329.34 501.59 330.6 501.61 331.86 501.63 333.12 501.65 334.38 501.67 335.64 501.69 336.9 501.71 338.16 501.74 339.42 501.76 340.69 501.78 341.95 501.81 343.21 501.83 344.47 501.86 345.73 501.88 346.99 501.91 348.25 501.93 349.51 501.96 350.78 501.99 352.04 502.02 353.3 502.04 354.56 502.07 355.82 502.1 357.08 502.13 358.34 502.16 359.61 502.19 360.87 502.22 362.13 502.25 363.39 502.27 364.65 502.3 365.91 502.33 367.18 502.37 368.44 502.4 369.7 502.43 370.96 502.46 372.22 502.49 373.48 502.52 374.74 502.55 376.01 502.58 377.27 502.61 378.53 502.64 379.79 502.67 381.05 502.7 382.31 502.73 383.58 502.76 384.84 502.8 386.1 502.83 387.36 502.86 388.62 502.89 389.88 502.92 391.15 502.95 392.41 502.98 393.67 503.01 394.93 503.04 396.19 503.06 397.45 503.09 398.72 503.12 399.98 503.15 401.24 503.18 402.5 503.21 403.76 503.23 405.02 503.26 406.29 503.29 407.55 503.31 408.81 503.34 410.07 503.36 411.33 503.39 412.59 503.41 413.86 503.44 415.12 503.46 416.38 503.48 417.64 503.51 418.9 503.53 420.16 503.55 421.42 503.57 422.69 503.59 423.95 503.61 425.21 503.63 426.47 503.65 427.73 503.67 428.99 503.68 430.25 503.7 431.51 503.72 432.78 503.73 434.04 503.75 435.3 503.76 436.56 503.77 437.82 503.78 439.08 503.79 440.34 503.8 441.6 503.81 442.86 503.82 444.12 503.83 445.39 503.84 446.65 503.84 447.91 503.85 449.17 503.85 450.43 503.86 451.69 503.86 452.95 503.86 454.21 503.86 455.47 503.86 456.73 503.86 457.99 503.85 459.25 503.85 460.51 503.84 461.77 503.84 463.03 503.83 464.29 503.82 465.55 503.81 466.81 503.8 468.07 503.79 469.33 503.78 470.59 503.76 471.85 503.75 473.11 503.73 474.37 503.71 475.63 503.69 476.89 503.67 478.15 503.65 479.41 503.62 480.67 503.6 481.93 503.57 483.19 503.55 484.45 503.52 485.71 503.49 486.97 503.45 488.23 503.42 489.49 503.39 490.75 503.35 492.01 503.31 493.26 503.27 494.52 503.23 495.78 503.19 497.04 503.15 498.3 503.1" fill="none" stroke="#111" stroke-width="1.2" stroke-linejoin="round"/>
<g fill="none" stroke="#111" stroke-width="1.0"><rect x="227.45" y="306.55" width="5.5" height="5.5"/><rect x="275.15" y="456.35" width="5.5" height="5.5"/><rect x="303.75" y="494.75" width="5.5" height="5.5"/><rect x="323.94" y="499.55" width="5.5" height="5.5"/><rect x="339.5" y="501.15" width="5.5" height="5.5"/><rect x="352.21" y="501.15" width="5.5" height="5.5"/><rect x="362.95" y="501.15" width="5.5" height="5.5"/><rect x="372.26" y="501.15" width="5.5" height="5.5"/><rect x="380.47" y="501.15" width="5.5" height="5.5"/><rect x="387.81" y="501.15" width="5.5" height="5.5"/><rect x="394.46" y="501.15" width="5.5" height="5.5"/><rect x="400.52" y="501.15" width="5.5" height="5.5"/><rect x="406.1" y="501.15" width="5.5" height="5.5"/><rect x="411.27" y="501.15" width="5.5" height="5.5"/><rect x="416.08" y="501.15" width="5.5" height="5.5"/><rect x="420.58" y="501.15" width="5.5" height="5.5"/><rect x="424.8" y="501.15" width="5.5" height="5.5"/><rect x="428.79" y="501.15" width="5.5" height="5.5"/><rect x="432.56" y="501.15" width="5.5" height="5.5"/><rect x="436.13" y="501.15" width="5.5" height="5.5"/><rect x="439.53" y="501.15" width="5.5" height="5.5"/><rect x="442.78" y="501.15" width="5.5" height="5.5"/><rect x="445.88" y="501.15" width="5.5" height="5.5"/><rect x="448.84" y="501.15" width="5.5" height="5.5"/><rect x="451.69" y="501.15" width="5.5" height="5.5"/><rect x="454.42" y="501.15" width="5.5" height="5.5"/><rect x="457.05" y="501.15" width="5.5" height="5.5"/><rect x="459.59" y="501.15" width="5.5" height="5.5"/><rect x="462.03" y="501.15" width="5.5" height="5.5"/><rect x="464.4" y="501.15" width="5.5" height="5.5"/><rect x="466.68" y="501.15" width="5.5" height="5.5"/><rect x="468.9" y="501.15" width="5.5" height="5.5"/><rect x="471.04" y="501.15" width="5.5" height="5.5"/><rect x="473.12" y="501.15" width="5.5" height="5.5"/><rect x="475.14" y="501.15" width="5.5" height="5.5"/><rect x="477.11" y="501.15" width="5.5" height="5.5"/><rect x="479.02" y="501.15" width="5.5" height="5.5"/><rect x="480.88" y="501.15" width="5.5" height="5.5"/><rect x="482.69" y="501.15" width="5.5" height="5.5"/><rect x="484.45" y="501.15" width="5.5" height="5.5"/><rect x="486.17" y="501.15" width="5.5" height="5.5"/><rect x="487.85" y="501.15" width="5.5" height="5.5"/><rect x="489.49" y="501.15" width="5.5" height="5.5"/><rect x="491.1" y="501.15" width="5.5" height="5.5"/><rect x="492.66" y="501.15" width="5.5" height="5.5"/><rect x="494.19" y="501.15" width="5.5" height="5.5"/><rect x="495.69" y="501.15" width="5.5" height="5.5"/><circle cx="229.7" cy="484.9" r="3.2"/><circle cx="278" cy="481.9" r="3.2"/><circle cx="306.5" cy="494.6" r="3.2"/><circle cx="326.69" cy="499.7" r="3.2"/><circle cx="342.25" cy="503.6" r="3.2"/><circle cx="354.96" cy="503.6" r="3.2"/><circle cx="365.7" cy="503.6" r="3.2"/><circle cx="375.01" cy="503.6" r="3.2"/><circle cx="383.22" cy="503.6" r="3.2"/><circle cx="390.56" cy="503.6" r="3.2"/><circle cx="397.21" cy="503.6" r="3.2"/><circle cx="403.27" cy="503.6" r="3.2"/><circle cx="408.85" cy="503.6" r="3.2"/><circle cx="414.02" cy="503.6" r="3.2"/><circle cx="418.83" cy="503.6" r="3.2"/><circle cx="423.33" cy="503.6" r="3.2"/><circle cx="427.55" cy="503.6" r="3.2"/><circle cx="431.54" cy="503.6" r="3.2"/><circle cx="435.31" cy="503.6" r="3.2"/><circle cx="438.88" cy="503.6" r="3.2"/><circle cx="442.28" cy="503.6" r="3.2"/><circle cx="445.53" cy="503.6" r="3.2"/><circle cx="448.63" cy="503.6" r="3.2"/><circle cx="451.59" cy="503.6" r="3.2"/><circle cx="454.44" cy="503.6" r="3.2"/><circle cx="457.17" cy="503.6" r="3.2"/><circle cx="459.8" cy="503.6" r="3.2"/><circle cx="462.34" cy="503.6" r="3.2"/><circle cx="464.78" cy="503.6" r="3.2"/><circle cx="467.15" cy="503.6" r="3.2"/><circle cx="469.43" cy="503.6" r="3.2"/><circle cx="471.65" cy="503.6" r="3.2"/><circle cx="473.79" cy="503.6" r="3.2"/><circle cx="475.87" cy="503.6" r="3.2"/><circle cx="477.89" cy="503.6" r="3.2"/><circle cx="479.86" cy="503.6" r="3.2"/><circle cx="481.77" cy="503.6" r="3.2"/><circle cx="483.63" cy="503.6" r="3.2"/><circle cx="485.44" cy="503.6" r="3.2"/><circle cx="487.2" cy="503.6" r="3.2"/><circle cx="488.92" cy="503.6" r="3.2"/><circle cx="490.6" cy="503.6" r="3.2"/><circle cx="492.24" cy="503.6" r="3.2"/><circle cx="493.85" cy="503.6" r="3.2"/><circle cx="495.41" cy="503.6" r="3.2"/><circle cx="496.94" cy="503.6" r="3.2"/><circle cx="498.44" cy="503.6" r="3.2"/><path d="M229.9 499.45L233.5 505.35L226.3 505.35Z"/><path d="M278 497.05L281.6 502.95L274.4 502.95Z"/><path d="M306.5 497.85L310.1 503.75L302.9 503.75Z"/><path d="M326.69 498.35L330.29 504.25L323.09 504.25Z"/><path d="M342.25 498.45L345.85 504.35L338.65 504.35Z"/><path d="M354.96 498.45L358.56 504.35L351.36 504.35Z"/><path d="M365.7 498.45L369.3 504.35L362.1 504.35Z"/><path d="M375.01 498.45L378.61 504.35L371.41 504.35Z"/><path d="M383.22 498.45L386.82 504.35L379.62 504.35Z"/><path d="M390.56 498.45L394.16 504.35L386.96 504.35Z"/><path d="M397.21 498.45L400.81 504.35L393.61 504.35Z"/><path d="M403.27 498.45L406.87 504.35L399.67 504.35Z"/><path d="M408.85 498.45L412.45 504.35L405.25 504.35Z"/><path d="M414.02 498.45L417.62 504.35L410.42 504.35Z"/><path d="M418.83 498.45L422.43 504.35L415.23 504.35Z"/><path d="M423.33 498.45L426.93 504.35L419.73 504.35Z"/><path d="M427.55 498.45L431.15 504.35L423.95 504.35Z"/><path d="M431.54 498.45L435.14 504.35L427.94 504.35Z"/><path d="M435.31 498.45L438.91 504.35L431.71 504.35Z"/><path d="M438.88 498.45L442.48 504.35L435.28 504.35Z"/><path d="M442.28 498.45L445.88 504.35L438.68 504.35Z"/><path d="M445.53 498.45L449.13 504.35L441.93 504.35Z"/></g>
<text x="4.4" y="11.8" font-size="12.5" class="b">11<tspan class="n">×</tspan>10<tspan font-size="7.6" dx="-0.9" dy="-4.9">5</tspan></text>
<text x="350.2" y="13.8" font-size="11.7" class="b">11<tspan class="n">×</tspan>10<tspan font-size="7.6" dx="-0.9" dy="-5.8">5</tspan></text>
<text x="168.2" y="299.8" font-size="12.8" class="b">11<tspan class="n">×</tspan>10<tspan font-size="7.6" dx="-0.9" dy="-4.8">5</tspan></text>
<text x="50" y="34.2" font-size="14.5" class="b" text-anchor="start">(a)</text>
<text x="398.8" y="33.8" font-size="14.3" class="b" text-anchor="start">(b)</text>
<text x="210.7" y="318.3" font-size="13.8" class="b" text-anchor="start">(c)</text>
<text x="172.8" y="256.6" font-size="14" class="b">d / <tspan class="n">μ</tspan>m</text>
<text x="510.7" y="256.9" font-size="14" class="b">d / <tspan class="n">μ</tspan>m</text>
<text x="336.7" y="531" font-size="14" class="b">d / <tspan class="n">μ</tspan>m</text>
<text transform="translate(13.2,159.2) rotate(-90)" font-size="14.3" class="b">N<tspan font-size="8" dy="4.2">v</tspan><tspan dy="-4.2"> / mm</tspan><tspan font-size="8" dy="-7">-3</tspan></text>
<text transform="translate(370.3,155.8) rotate(-90)" font-size="14.3" class="b">N<tspan font-size="8" dy="4.2">v</tspan><tspan dy="-4.2"> /mm</tspan><tspan font-size="8" dy="-7">-3</tspan></text>
<text transform="translate(187.3,432) rotate(-90)" font-size="14.3" class="b">N<tspan font-size="8" dy="4.2">v</tspan><tspan dy="-4.2"> /mm</tspan><tspan font-size="8" dy="-7">-3</tspan></text>
<text x="209.8" y="28" font-size="10.45">[% Al]<tspan font-size="6" dy="3.2">i</tspan><tspan dy="-3.2">=0.05, [% Ca]</tspan><tspan font-size="6" dy="3.2">i</tspan><tspan dy="-3.2">=0.25</tspan></text>
<text x="299.8" y="43.8" font-size="10">360 s</text>
<text x="299.8" y="56.25" font-size="10">600 s</text>
<text x="299.8" y="68.7" font-size="10">1800 s</text>
<g fill="none" stroke="#111" stroke-width="1.0"><rect x="282.25" y="37.55" width="5.5" height="5.5"/><circle cx="285" cy="52.5" r="3.2"/><path d="M285 61.65L288.6 67.55L281.4 67.55Z"/></g>
<text x="549.5" y="28" font-size="10.45">[% Al]<tspan font-size="6" dy="3.2">i</tspan><tspan dy="-3.2">=0.05, [% Ca]</tspan><tspan font-size="6" dy="3.2">i</tspan><tspan dy="-3.2">=0.78</tspan></text>
<text x="638.4" y="46.6" font-size="10">360 s</text>
<text x="638.4" y="59.05" font-size="10">600 s</text>
<text x="638.4" y="71.5" font-size="10">1800 s</text>
<g fill="none" stroke="#111" stroke-width="1.0"><rect x="621.95" y="40.35" width="5.5" height="5.5"/><circle cx="624.7" cy="55.3" r="3.2"/><path d="M624.7 64.45L628.3 70.35L621.1 70.35Z"/></g>
<text x="376.4" y="314.3" font-size="10.45">[% Al]<tspan font-size="6" dy="3.2">i</tspan><tspan dy="-3.2">=0.25, [% Ca]</tspan><tspan font-size="6" dy="3.2">i</tspan><tspan dy="-3.2">=0.78</tspan></text>
<text x="467" y="332.1" font-size="10.4">360 s</text>
<text x="467" y="344.3" font-size="10.4">600 s</text>
<text x="467" y="356.5" font-size="10.4">1800 s</text>
<g fill="none" stroke="#111" stroke-width="1.0"><rect x="449.35" y="325.85" width="5.5" height="5.5"/><circle cx="452.1" cy="340.55" r="3.2"/><path d="M452.1 349.45L455.7 355.35L448.5 355.35Z"/></g>
</svg>
</body></html>
